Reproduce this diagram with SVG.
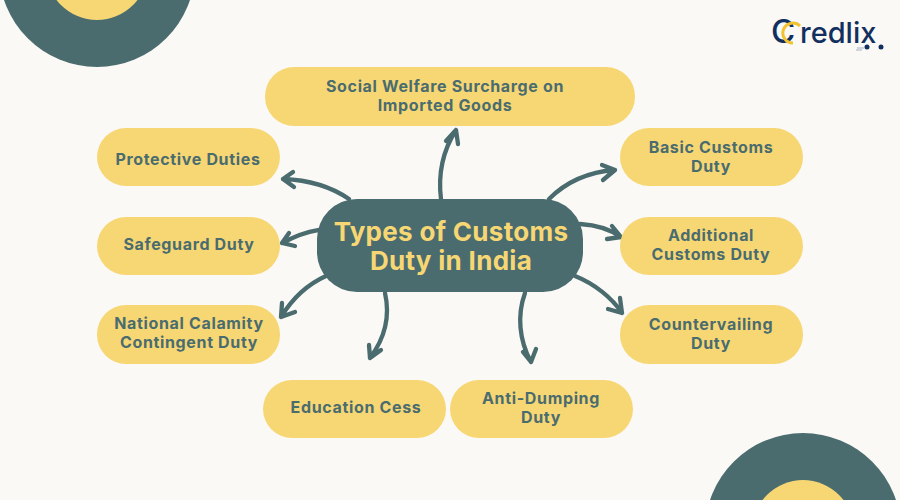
<svg xmlns="http://www.w3.org/2000/svg" width="900" height="500" viewBox="0 0 900 500">
<style>
.n{fill:#f7d774}
.t{font-family:"Inter","Liberation Sans",sans-serif;font-weight:700;font-size:16px;letter-spacing:.65px;fill:#4a6c6f;text-anchor:middle}
.c{fill:none;stroke:#4a6c6f;stroke-width:4.300;stroke-linecap:round;stroke-linejoin:round}
</style>
<rect width="900" height="500" fill="#fbf9f5"/>
<g id="deco">
<circle cx="97" cy="-31" r="98" fill="#4a6c6f"/>
<circle cx="97" cy="-31" r="51" fill="#f7d774"/>
<circle cx="803" cy="531" r="98" fill="#4a6c6f"/>
<circle cx="803" cy="531" r="51" fill="#f7d774"/>
</g>
<g id="logo">
<text y="43" font-family="Inter,'Liberation Sans',sans-serif" font-weight="500" fill="#12305f"><tspan x="771" font-size="33">C</tspan><tspan x="800" font-size="29">redlix</tspan></text>
<path d="M800 26A10 10 0 1 0 793 43" fill="none" stroke="#f2c230" stroke-width="3"/>
<circle cx="867" cy="47" r="2.500" fill="#12305f"/>
<circle cx="881" cy="47" r="2.500" fill="#12305f"/>
<path d="M857 48h7M856 50h6" stroke="#7d93b5" stroke-width="0.700"/>
</g>
<g id="connectors" class="c">
<path d="M441 199C438 175 442 152 456 130M446 141L456 130L458 144"/>
<path d="M549 199C566 182 588 172 615 170M603 180L615 170L602 165"/>
<path d="M580 224C596 225 610 229 621 237M607 239L621 237L612 226"/>
<path d="M575 276C595 284 612 298 622 313M608 309L622 313L620 298"/>
<path d="M525 293C517 315 519 340 531 362M523 352L531 362L536 349"/>
<path d="M385 293C390 315 385 338 370 358M369 345L370 358L381 350"/>
<path d="M326 276C306 285 292 299 281 317M295 312L281 317L282 303"/>
<path d="M318 230C305 232 295 236 282 243M295 246L282 243L289 233"/>
<path d="M349 199C330 186 310 180 283 179M293 172L283 179L294 187"/>
</g>
<g id="center"><rect x="317" y="199" width="266" height="93" rx="40" fill="#4a6c6f"/>
<text text-anchor="middle" font-family="Inter,'Liberation Sans',sans-serif" font-weight="700" font-size="26" letter-spacing=".3" fill="#f7d774"><tspan x="451" y="241">Types of Customs</tspan><tspan x="451" y="269.500">Duty in India</tspan></text></g>
<g id="social"><rect class="n" x="265" y="67" width="370" height="59" rx="29"/><text class="t"><tspan x="445" y="91.500">Social Welfare Surcharge on</tspan><tspan x="445" y="110.500">Imported Goods</tspan></text></g>
<g id="protective"><rect class="n" x="97" y="128" width="183" height="58" rx="29"/><text class="t" x="188" y="165">Protective Duties</text></g>
<g id="safeguard"><rect class="n" x="97" y="217" width="183" height="58" rx="29"/><text class="t" x="189" y="250">Safeguard Duty</text></g>
<g id="calamity"><rect class="n" x="97" y="305" width="183" height="59" rx="29"/><text class="t"><tspan x="189" y="329">National Calamity</tspan><tspan x="189" y="348">Contingent Duty</tspan></text></g>
<g id="education"><rect class="n" x="263" y="380" width="183" height="58" rx="29"/><text class="t" x="356" y="413">Education Cess</text></g>
<g id="antidumping"><rect class="n" x="450" y="380" width="183" height="58" rx="29"/><text class="t"><tspan x="541" y="404">Anti-Dumping</tspan><tspan x="541" y="423">Duty</tspan></text></g>
<g id="basic"><rect class="n" x="620" y="128" width="183" height="58" rx="29"/><text class="t"><tspan x="711" y="152.500">Basic Customs</tspan><tspan x="711" y="171.500">Duty</tspan></text></g>
<g id="additional"><rect class="n" x="620" y="217" width="183" height="58" rx="29"/><text class="t"><tspan x="711" y="241">Additional</tspan><tspan x="711" y="260">Customs Duty</tspan></text></g>
<g id="countervailing"><rect class="n" x="620" y="305" width="183" height="59" rx="29"/><text class="t"><tspan x="711" y="329.500">Countervailing</tspan><tspan x="711" y="348.500">Duty</tspan></text></g>
</svg>
